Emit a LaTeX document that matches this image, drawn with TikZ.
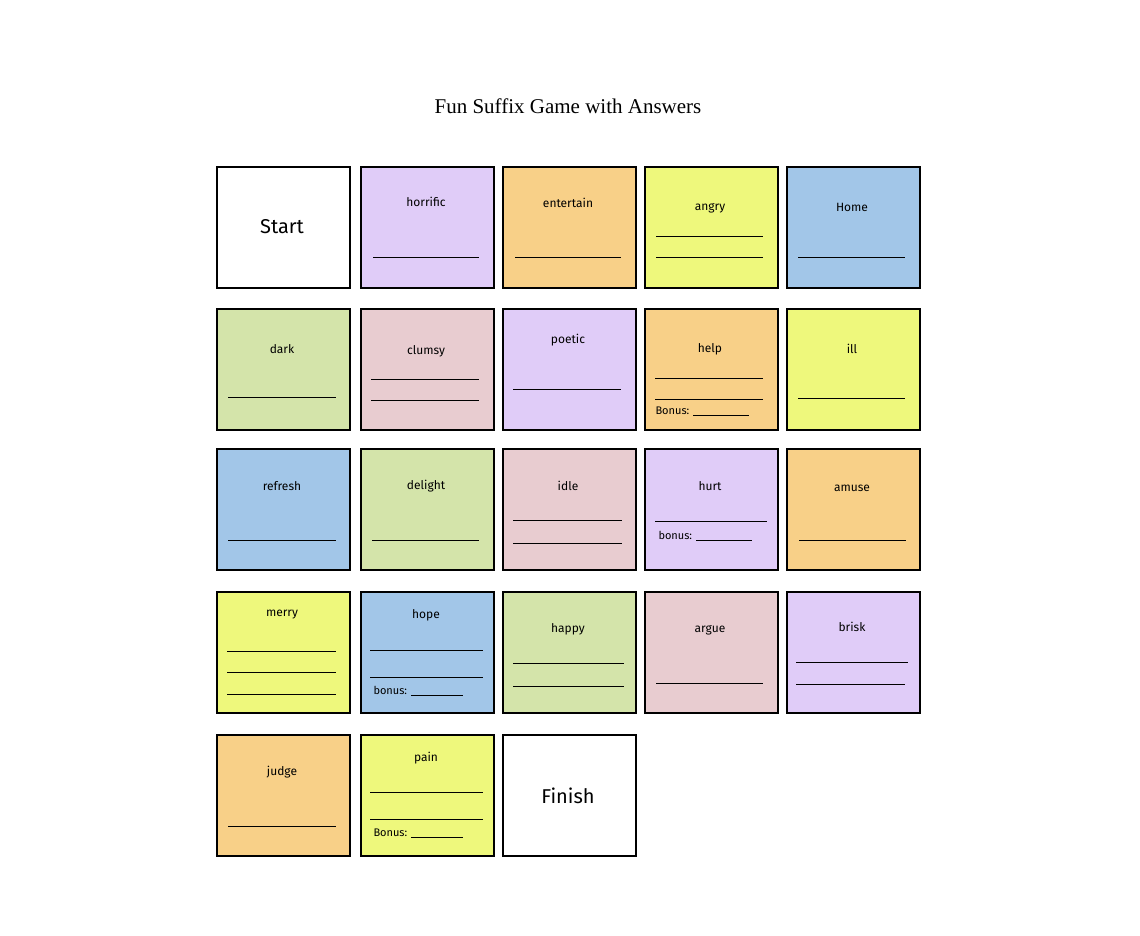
\documentclass[tikz,border=0pt]{standalone}
\usepackage{fontspec}
\setmainfont{Liberation Serif}
\newfontfamily\cellfont{Fira Sans}
\definecolor{cpur}{HTML}{E0CCF8}
\definecolor{cora}{HTML}{F8D088}
\definecolor{cyel}{HTML}{EEF87C}
\definecolor{cblu}{HTML}{A2C6E8}
\definecolor{cgre}{HTML}{D4E4AA}
\definecolor{cpin}{HTML}{E8CCD0}
\tikzset{
 cell/.style={draw=black,line width=2.2pt,minimum width=133pt,minimum height=121pt,anchor=north west,inner sep=0pt},
 lbl/.style={font=\cellfont\fontsize{12}{14}\selectfont},
 big/.style={font=\cellfont\fontsize{20}{24}\selectfont},
 bon/.style={font=\cellfont\fontsize{11}{13}\selectfont,anchor=west},
 ans/.style={line width=0.6pt}
}
% \mkcell{name}{x}{y}{colour}
\newcommand\mkcell[4]{\node[cell,fill=#4] (#1) at (#2,#3) {};}
\newcommand\ansline[3]{\draw[ans] (#1+12,#3) -- (#2+120,#3);}
\begin{document}
\begin{tikzpicture}[x=1pt,y=-1pt]
\useasboundingbox (0,0) rectangle (1140,936);
\node[font=\fontsize{21}{25}\selectfont] (title) at (568,106) {Fun Suffix Game with Answers};
% row 1
\mkcell{start}{216}{166}{white}
\mkcell{horrific}{360}{166}{cpur}
\mkcell{entertain}{502}{166}{cora}
\mkcell{angry}{644}{166}{cyel}
\mkcell{home}{786}{166}{cblu}
\node[big] at (282,227) {Start};
\node[lbl] at (426,202) {horrific}; \draw[ans] (373,257) -- (479,257);
\node[lbl] at (568,203) {entertain}; \draw[ans] (515,257) -- (621,257);
\node[lbl] at (710,208) {angry}; \draw[ans] (656,236) -- (763,236); \draw[ans] (656,257) -- (763,257);
\node[lbl] at (852,207) {Home}; \draw[ans] (798,257) -- (905,257);
% row 2
\mkcell{dark}{216}{308}{cgre}
\mkcell{clumsy}{360}{308}{cpin}
\mkcell{poetic}{502}{308}{cpur}
\mkcell{help}{644}{308}{cora}
\mkcell{ill}{786}{308}{cyel}
\node[lbl] at (282,349) {dark}; \draw[ans] (228,397) -- (336,397);
\node[lbl] at (426,351) {clumsy}; \draw[ans] (371,379) -- (479,379); \draw[ans] (371,400) -- (479,400);
\node[lbl] at (568,340) {poetic}; \draw[ans] (513,389) -- (621,389);
\node[lbl] at (710,349) {help}; \draw[ans] (655,378) -- (763,378); \draw[ans] (655,399) -- (763,399);
\node[bon] at (652,411) {Bonus: \rule[-1pt]{56pt}{0.6pt}};
\node[lbl] at (852,349) {ill}; \draw[ans] (798,398) -- (905,398);
% row 3
\mkcell{refresh}{216}{448}{cblu}
\mkcell{delight}{360}{448}{cgre}
\mkcell{idle}{502}{448}{cpin}
\mkcell{hurt}{644}{448}{cpur}
\mkcell{amuse}{786}{448}{cora}
\node[lbl] at (282,486) {refresh}; \draw[ans] (228,540) -- (336,540);
\node[lbl] at (426,486) {delight}; \draw[ans] (372,540) -- (479,540);
\node[lbl] at (568,486) {idle}; \draw[ans] (513,520) -- (622,520); \draw[ans] (513,543) -- (622,543);
\node[lbl] at (710,486) {hurt}; \draw[ans] (655,521) -- (767,521);
\node[bon] at (655,536) {bonus: \rule[-1pt]{56pt}{0.6pt}};
\node[lbl] at (852,488) {amuse}; \draw[ans] (799,540) -- (906,540);
% row 4
\mkcell{merry}{216}{591}{cyel}
\mkcell{hope}{360}{591}{cblu}
\mkcell{happy}{502}{591}{cgre}
\mkcell{argue}{644}{591}{cpin}
\mkcell{brisk}{786}{591}{cpur}
\node[lbl] at (282,615) {merry}; \draw[ans] (227,651) -- (336,651); \draw[ans] (227,672) -- (336,672); \draw[ans] (227,694) -- (336,694);
\node[lbl] at (426,615) {hope}; \draw[ans] (370,650) -- (483,650); \draw[ans] (370,677) -- (483,677);
\node[bon] at (370,691) {bonus: \rule[-1pt]{52pt}{0.6pt}};
\node[lbl] at (568,629) {happy}; \draw[ans] (513,663) -- (624,663); \draw[ans] (513,686) -- (624,686);
\node[lbl] at (710,630) {argue}; \draw[ans] (656,683) -- (763,683);
\node[lbl] at (852,627) {brisk}; \draw[ans] (796,662) -- (908,662); \draw[ans] (796,684) -- (905,684);
% row 5
\mkcell{judge}{216}{734}{cora}
\mkcell{pain}{360}{734}{cyel}
\mkcell{finish}{502}{734}{white}
\node[lbl] at (282,772) {judge}; \draw[ans] (228,826) -- (336,826);
\node[lbl] at (426,758) {pain}; \draw[ans] (370,792) -- (483,792); \draw[ans] (370,819) -- (483,819);
\node[bon] at (370,833) {Bonus: \rule[-1pt]{52pt}{0.6pt}};
\node[big] at (568,796) {Finish};
\end{tikzpicture}
\end{document}
